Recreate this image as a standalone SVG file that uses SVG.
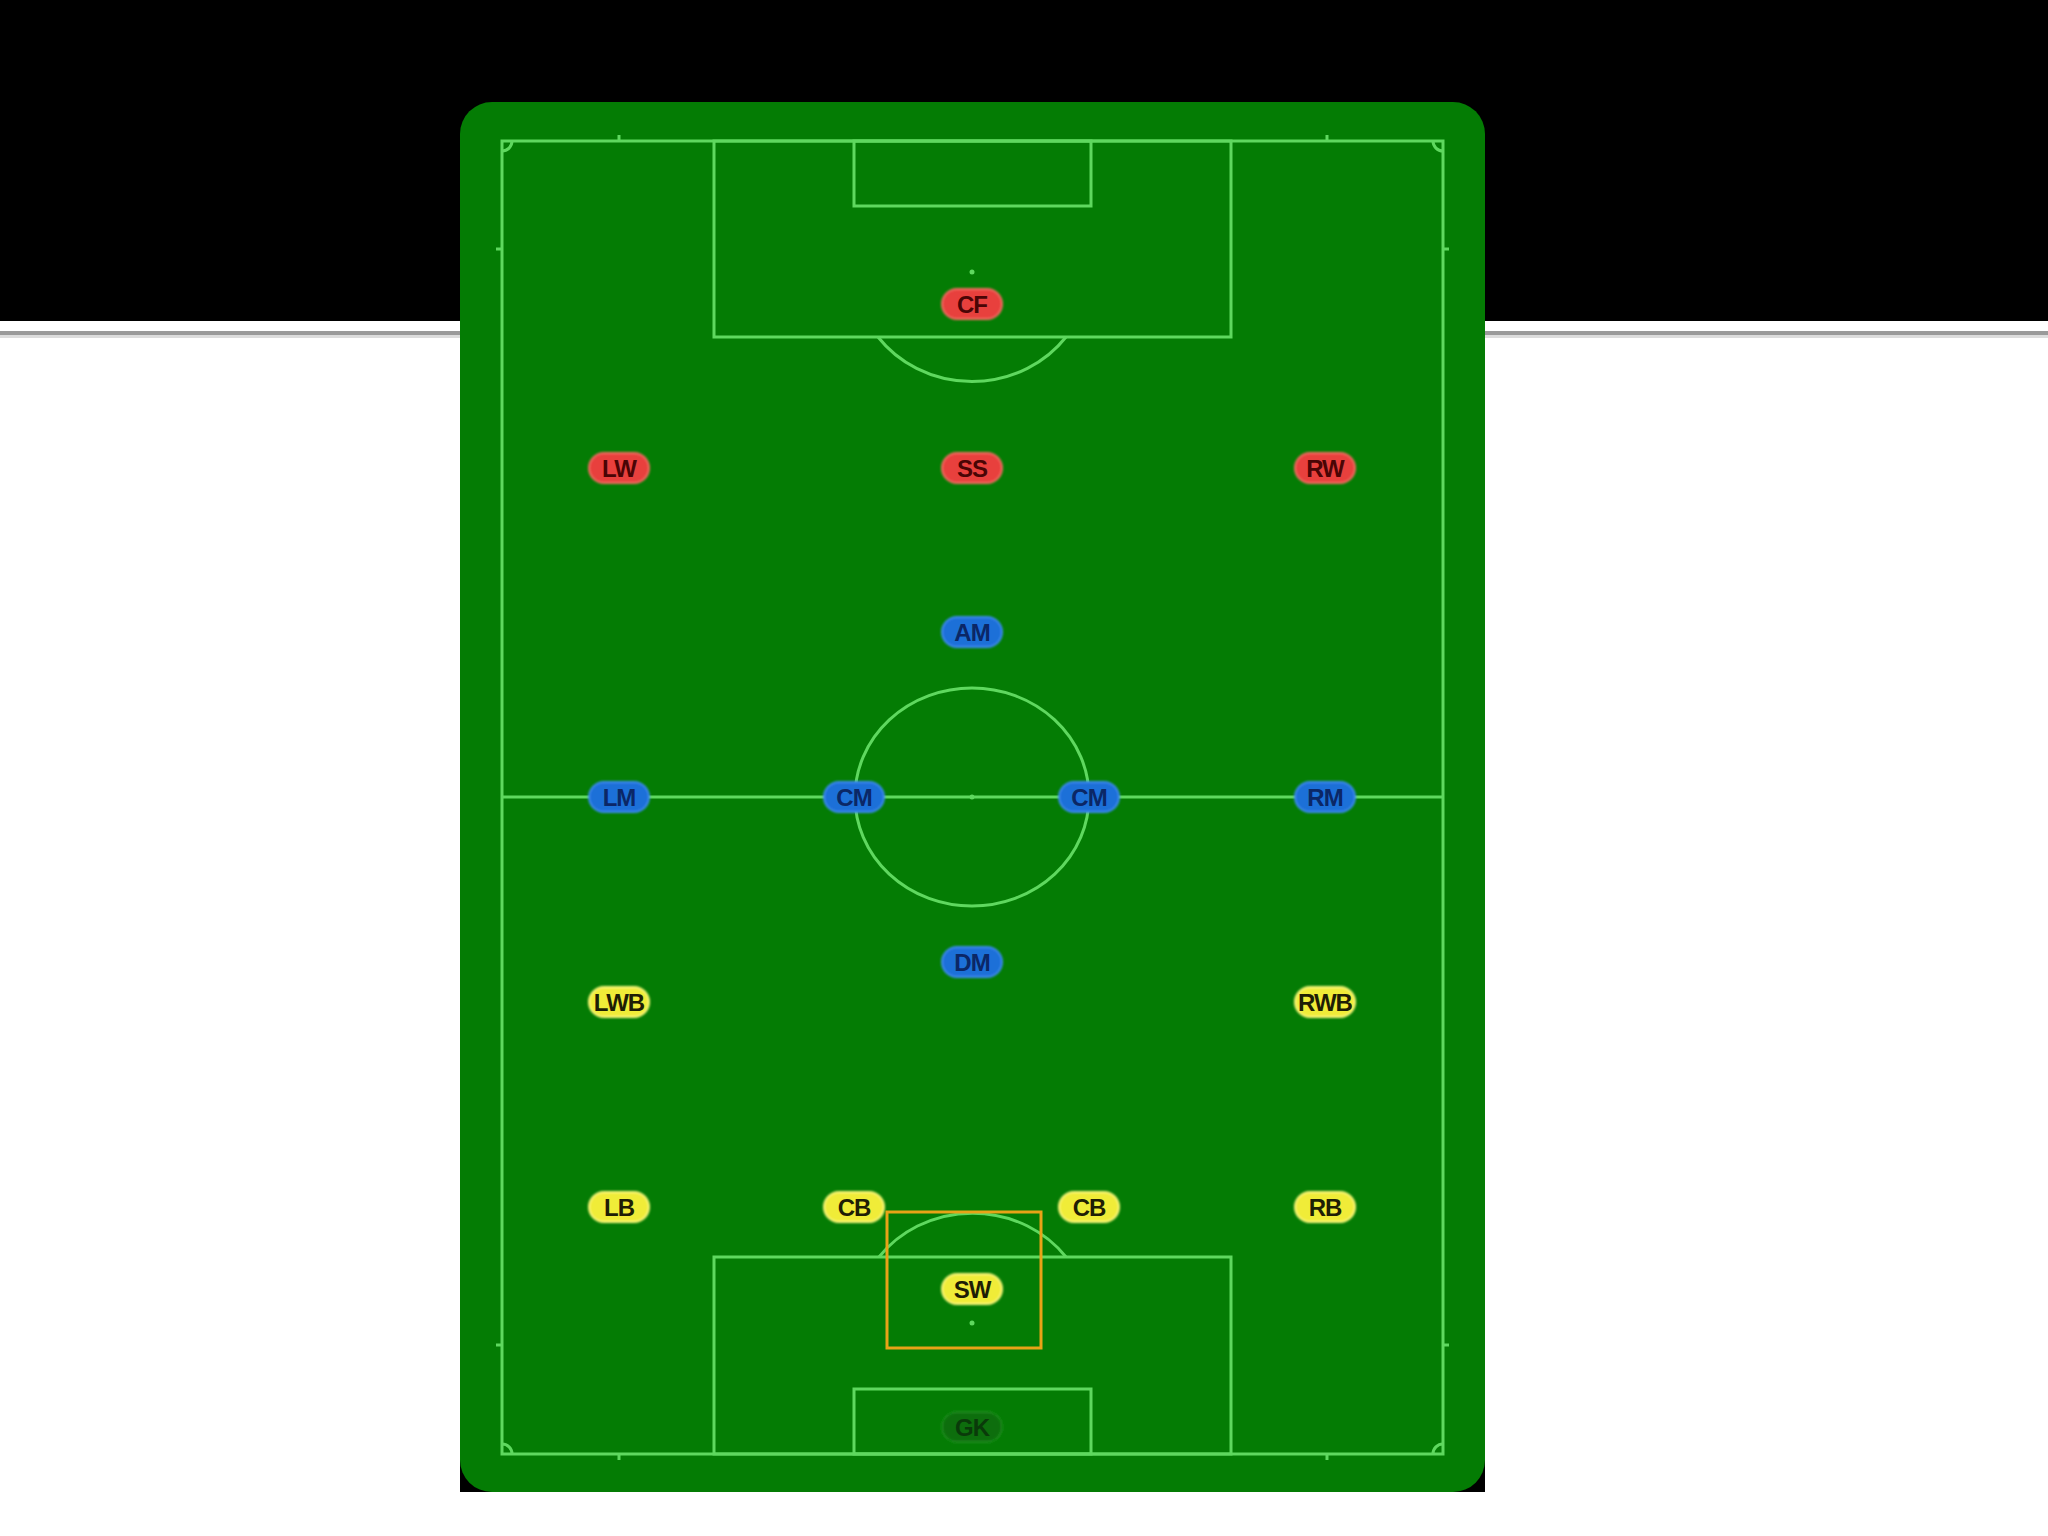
<svg xmlns="http://www.w3.org/2000/svg" width="2048" height="1536" viewBox="0 0 2048 1536">
<style>
.ln{fill:none;stroke:#5fd85f;stroke-width:3}
.pill{stroke-width:2}
.red .pill{fill:#e8413c;stroke:#f06a60}
.blue .pill{fill:#1f6fd8;stroke:#3b8af0}
.yel .pill{fill:#f0ec38;stroke:#fbf77a}
.gk .pill{fill:#0c6e10;stroke:#1a8a1a}
.lbl{font-family:"Liberation Sans",Arial,sans-serif;font-weight:bold;font-size:24px;text-anchor:middle;dominant-baseline:central;letter-spacing:-1px}
.red .lbl{fill:#4a0505}
.blue .lbl{fill:#0b2766}
.yel .lbl{fill:#1e1e05}
.gk .lbl{fill:#0a3a0a}
</style>
<defs>
<filter id="soft" x="-20%" y="-30%" width="140%" height="160%"><feGaussianBlur stdDeviation="1.2"/></filter>
</defs>
<rect x="0" y="0" width="2048" height="1536" fill="#ffffff"/>
<rect x="0" y="0" width="2048" height="321" fill="#000000"/>
<rect x="0" y="331" width="2048" height="4" fill="#9a9a9a"/>
<rect x="0" y="335" width="2048" height="3" fill="#dcdcdc"/>
<g id="pitch">
<rect x="460" y="102" width="1025" height="1390" fill="#000000"/>
<rect x="460" y="102" width="1025" height="1390" rx="32" ry="32" fill="#047c04"/>
<rect class="ln" x="502" y="141" width="941" height="1313"/>
<line class="ln" x1="502" y1="797" x2="1443" y2="797"/>
<ellipse class="ln" cx="972" cy="797" rx="117" ry="109"/>
<circle cx="972" cy="797" r="2.5" fill="#5fd85f"/>
<rect class="ln" x="714" y="141" width="517" height="196"/>
<rect class="ln" x="854" y="141" width="237" height="65"/>
<circle cx="972" cy="272" r="2.5" fill="#5fd85f"/>
<path class="ln" d="M878,337 A117,110 0 0 0 1066,337"/>
<rect class="ln" x="714" y="1257" width="517" height="197"/>
<rect class="ln" x="854" y="1389" width="237" height="65"/>
<circle cx="972" cy="1323" r="2.5" fill="#5fd85f"/>
<path class="ln" d="M879,1257 A117,110 0 0 1 1066,1257"/>
<path class="ln" stroke-width="2" d="M502,151 A10,10 0 0 0 512,141 M1433,141 A10,10 0 0 0 1443,151 M502,1444 A10,10 0 0 1 512,1454 M1433,1454 A10,10 0 0 1 1443,1444"/>
<path class="ln" stroke-width="2" d="M619,141 V135 M1327,141 V135 M502,249 H496 M1443,249 H1449 M502,1345 H496 M1443,1345 H1449 M619,1454 V1460 M1327,1454 V1460"/>
</g>
<g id="connectors"></g>
<g id="node-CF" class="red"><rect class="pill" x="942" y="289" width="60" height="30" rx="15" filter="url(#soft)"/><text class="lbl" x="972" y="304">CF</text></g>
<g id="node-LW" class="red"><rect class="pill" x="589" y="453" width="60" height="30" rx="15" filter="url(#soft)"/><text class="lbl" x="619" y="468">LW</text></g>
<g id="node-SS" class="red"><rect class="pill" x="942" y="453" width="60" height="30" rx="15" filter="url(#soft)"/><text class="lbl" x="972" y="468">SS</text></g>
<g id="node-RW" class="red"><rect class="pill" x="1295" y="453" width="60" height="30" rx="15" filter="url(#soft)"/><text class="lbl" x="1325" y="468">RW</text></g>
<g id="node-AM" class="blue"><rect class="pill" x="942" y="617" width="60" height="30" rx="15" filter="url(#soft)"/><text class="lbl" x="972" y="632">AM</text></g>
<g id="node-LM" class="blue"><rect class="pill" x="589" y="782" width="60" height="30" rx="15" filter="url(#soft)"/><text class="lbl" x="619" y="797">LM</text></g>
<g id="node-CM1" class="blue"><rect class="pill" x="824" y="782" width="60" height="30" rx="15" filter="url(#soft)"/><text class="lbl" x="854" y="797">CM</text></g>
<g id="node-CM2" class="blue"><rect class="pill" x="1059" y="782" width="60" height="30" rx="15" filter="url(#soft)"/><text class="lbl" x="1089" y="797">CM</text></g>
<g id="node-RM" class="blue"><rect class="pill" x="1295" y="782" width="60" height="30" rx="15" filter="url(#soft)"/><text class="lbl" x="1325" y="797">RM</text></g>
<g id="node-DM" class="blue"><rect class="pill" x="942" y="947" width="60" height="30" rx="15" filter="url(#soft)"/><text class="lbl" x="972" y="962">DM</text></g>
<g id="node-LWB" class="yel"><rect class="pill" x="589" y="987" width="60" height="30" rx="15" filter="url(#soft)"/><text class="lbl" x="619" y="1002">LWB</text></g>
<g id="node-RWB" class="yel"><rect class="pill" x="1295" y="987" width="60" height="30" rx="15" filter="url(#soft)"/><text class="lbl" x="1325" y="1002">RWB</text></g>
<g id="node-LB" class="yel"><rect class="pill" x="589" y="1192" width="60" height="30" rx="15" filter="url(#soft)"/><text class="lbl" x="619" y="1207">LB</text></g>
<g id="node-CB1" class="yel"><rect class="pill" x="824" y="1192" width="60" height="30" rx="15" filter="url(#soft)"/><text class="lbl" x="854" y="1207">CB</text></g>
<g id="node-CB2" class="yel"><rect class="pill" x="1059" y="1192" width="60" height="30" rx="15" filter="url(#soft)"/><text class="lbl" x="1089" y="1207">CB</text></g>
<g id="node-RB" class="yel"><rect class="pill" x="1295" y="1192" width="60" height="30" rx="15" filter="url(#soft)"/><text class="lbl" x="1325" y="1207">RB</text></g>
<g id="node-SW" class="yel"><rect class="pill" x="942" y="1274" width="60" height="30" rx="15" filter="url(#soft)"/><text class="lbl" x="972" y="1289">SW</text></g>
<g id="node-GK" class="gk"><rect class="pill" x="942" y="1412" width="60" height="30" rx="15" filter="url(#soft)"/><text class="lbl" x="972" y="1427">GK</text></g>
<g id="highlight"><rect x="887" y="1212" width="154" height="136" fill="none" stroke="#e8a317" stroke-width="3"/></g>
</svg>
